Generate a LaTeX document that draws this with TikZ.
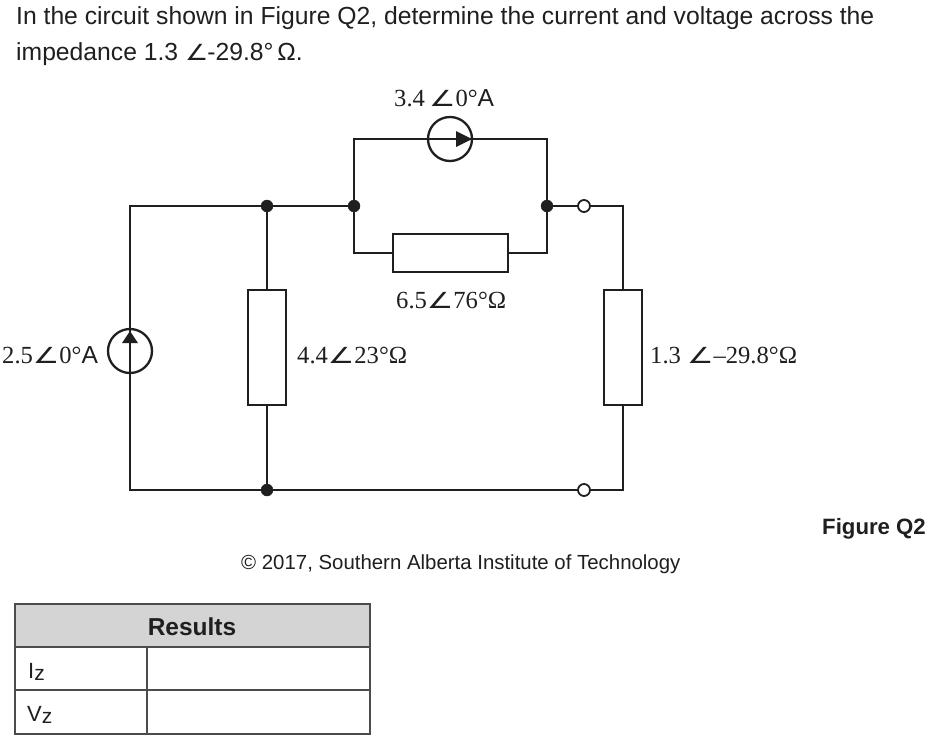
\documentclass[tikz,border=0pt]{standalone}
\usepackage{fontspec}
\usepackage{graphicx}
\setmainfont{Liberation Sans}
\newfontfamily\serifx{Liberation Serif}
\newfontfamily\symx{DejaVu Sans}
\newcommand{\angsym}{{\symx\scalebox{1.2}[0.9]{∠}}}
\newcommand{\amp}{{\rmfamily\fontspec{Liberation Sans}A}}
\definecolor{ink}{HTML}{1F1F1F}
\tikzset{
  wire/.style={draw=ink,line width=2.3pt,line join=miter},
  res/.style={draw=ink,line width=2.3pt,fill=white,rectangle,inner sep=0pt},
  src/.style={draw=ink,line width=2.3pt,circle,inner sep=0pt,minimum size=44pt},
  dot/.style={circle,fill=ink,draw=ink,inner sep=0pt,minimum size=12pt},
  term/.style={circle,fill=white,draw=ink,line width=1.8pt,inner sep=0pt,minimum size=12pt},
  head/.style={fill=ink,draw=none},
  txt/.style={text=ink,inner sep=0pt,anchor=base west},
  clab/.style={text=ink,font=\serifx\fontsize{24.6}{28}\selectfont,inner sep=0pt,anchor=base west},
  grid/.style={draw=ink!80,line width=1.6pt}
}
\begin{document}
\begin{tikzpicture}[x=1pt,y=-1pt]
\useasboundingbox (0,0) rectangle (930,739);
\fill[white] (0,0) rectangle (930,739);

\node[txt,font=\fontsize{24.7}{28}\selectfont] (q1) at (16,24) {In the circuit shown in Figure Q2, determine the current and voltage across the};
\node[txt,font=\fontsize{24.7}{28}\selectfont] (q2) at (16,60) {impedance 1.3 {\symx\scalebox{1.05}[0.9]{∠}}\hspace{-1pt}-29.8°\hspace{-3pt} Ω.};

% corners and junctions
\coordinate (tl) at (130,206);
\coordinate (bl) at (130,490);
\coordinate (tr) at (623,206);
\coordinate (br) at (623,490);
\coordinate (ptl) at (354,139);
\coordinate (ptr) at (547,139);
\coordinate (pbl) at (354,253);
\coordinate (pbr) at (547,253);

\node[src] (s1) at (130,351) {};
\node[src] (s2) at (450,139) {};
\node[res,minimum width=38pt,minimum height=115pt] (r1) at (267,347.5) {};
\node[res,minimum width=38pt,minimum height=115pt] (r3) at (623,347.5) {};
\node[res,minimum width=115pt,minimum height=38pt] (r2) at (450.5,253) {};
\node[dot] (j1) at (267,206) {};
\node[dot] (j2) at (354,206) {};
\node[dot] (j3) at (547,206) {};
\node[dot] (j4) at (267,490) {};
\node[term] (t1) at (584,206) {};
\node[term] (t2) at (584,490) {};

% wires
\draw[wire] (s1.south) -- (bl) -- (j4) -- (t2);
\draw[wire] (t2) -- (br) -- (r3.south);
\draw[wire] (s1.north) -- (tl) -- (j1) -- (j2);
\draw[wire] (j3) -- (t1);
\draw[wire] (t1) -- (tr) -- (r3.north);
\draw[wire] (j1) -- (r1.north);
\draw[wire] (r1.south) -- (j4);
\draw[wire] (j2) -- (ptl) -- (s2.west);
\draw[wire] (s2.east) -- (ptr) -- (j3);
\draw[wire] (j2) -- (pbl) -- (r2.west);
\draw[wire] (r2.east) -- (pbr) -- (j3);
% wire through the sources
\draw[wire] (s1.south) -- (s1.north);
\draw[wire] (s2.west) -- (s2.east);
\fill[head] (130,331) -- (138,343) -- (122,343) -- cycle;
\fill[head] (472,139) -- (456,131) -- (456,147) -- cycle;

% component labels
\node[clab] (l1) at (394,106) {3.4\,\angsym0°\amp};
\node[clab] (l2) at (396,308) {6.5\angsym76°Ω};
\node[clab] (l3) at (2,363) {2.5\angsym0°\amp};
\node[clab] (l4) at (297,363) {4.4\angsym23°Ω};
\node[clab] (l5) at (650,363) {1.3 \angsym–29.8°Ω};

\node[txt,font=\bfseries\fontsize{22.2}{26}\selectfont] (fig) at (822,534) {Figure Q2};
\node[txt,font=\fontsize{20.4}{24}\selectfont] (cr) at (241,569) {© 2017, Southern Alberta Institute of Technology};

% results table
\path[fill=black!17] (15,604) rectangle (370,647);
\draw[grid] (15,604) rectangle (370,734);
\draw[grid] (15,647) -- (370,647);
\draw[grid] (15,690) -- (370,690);
\draw[grid] (147,647) -- (147,734);
\node[txt,font=\bfseries\fontsize{24.5}{28}\selectfont,anchor=base] (rh) at (192,635) {Results};
\node[txt,font=\fontsize{22}{24}\selectfont] (iz) at (28,678) {I\raisebox{-2pt}{\fontsize{21}{24}\selectfont z}};
\node[txt,font=\fontsize{22}{24}\selectfont] (vz) at (27,721) {V\raisebox{-2pt}{\fontsize{21}{24}\selectfont z}};
\end{tikzpicture}
\end{document}
